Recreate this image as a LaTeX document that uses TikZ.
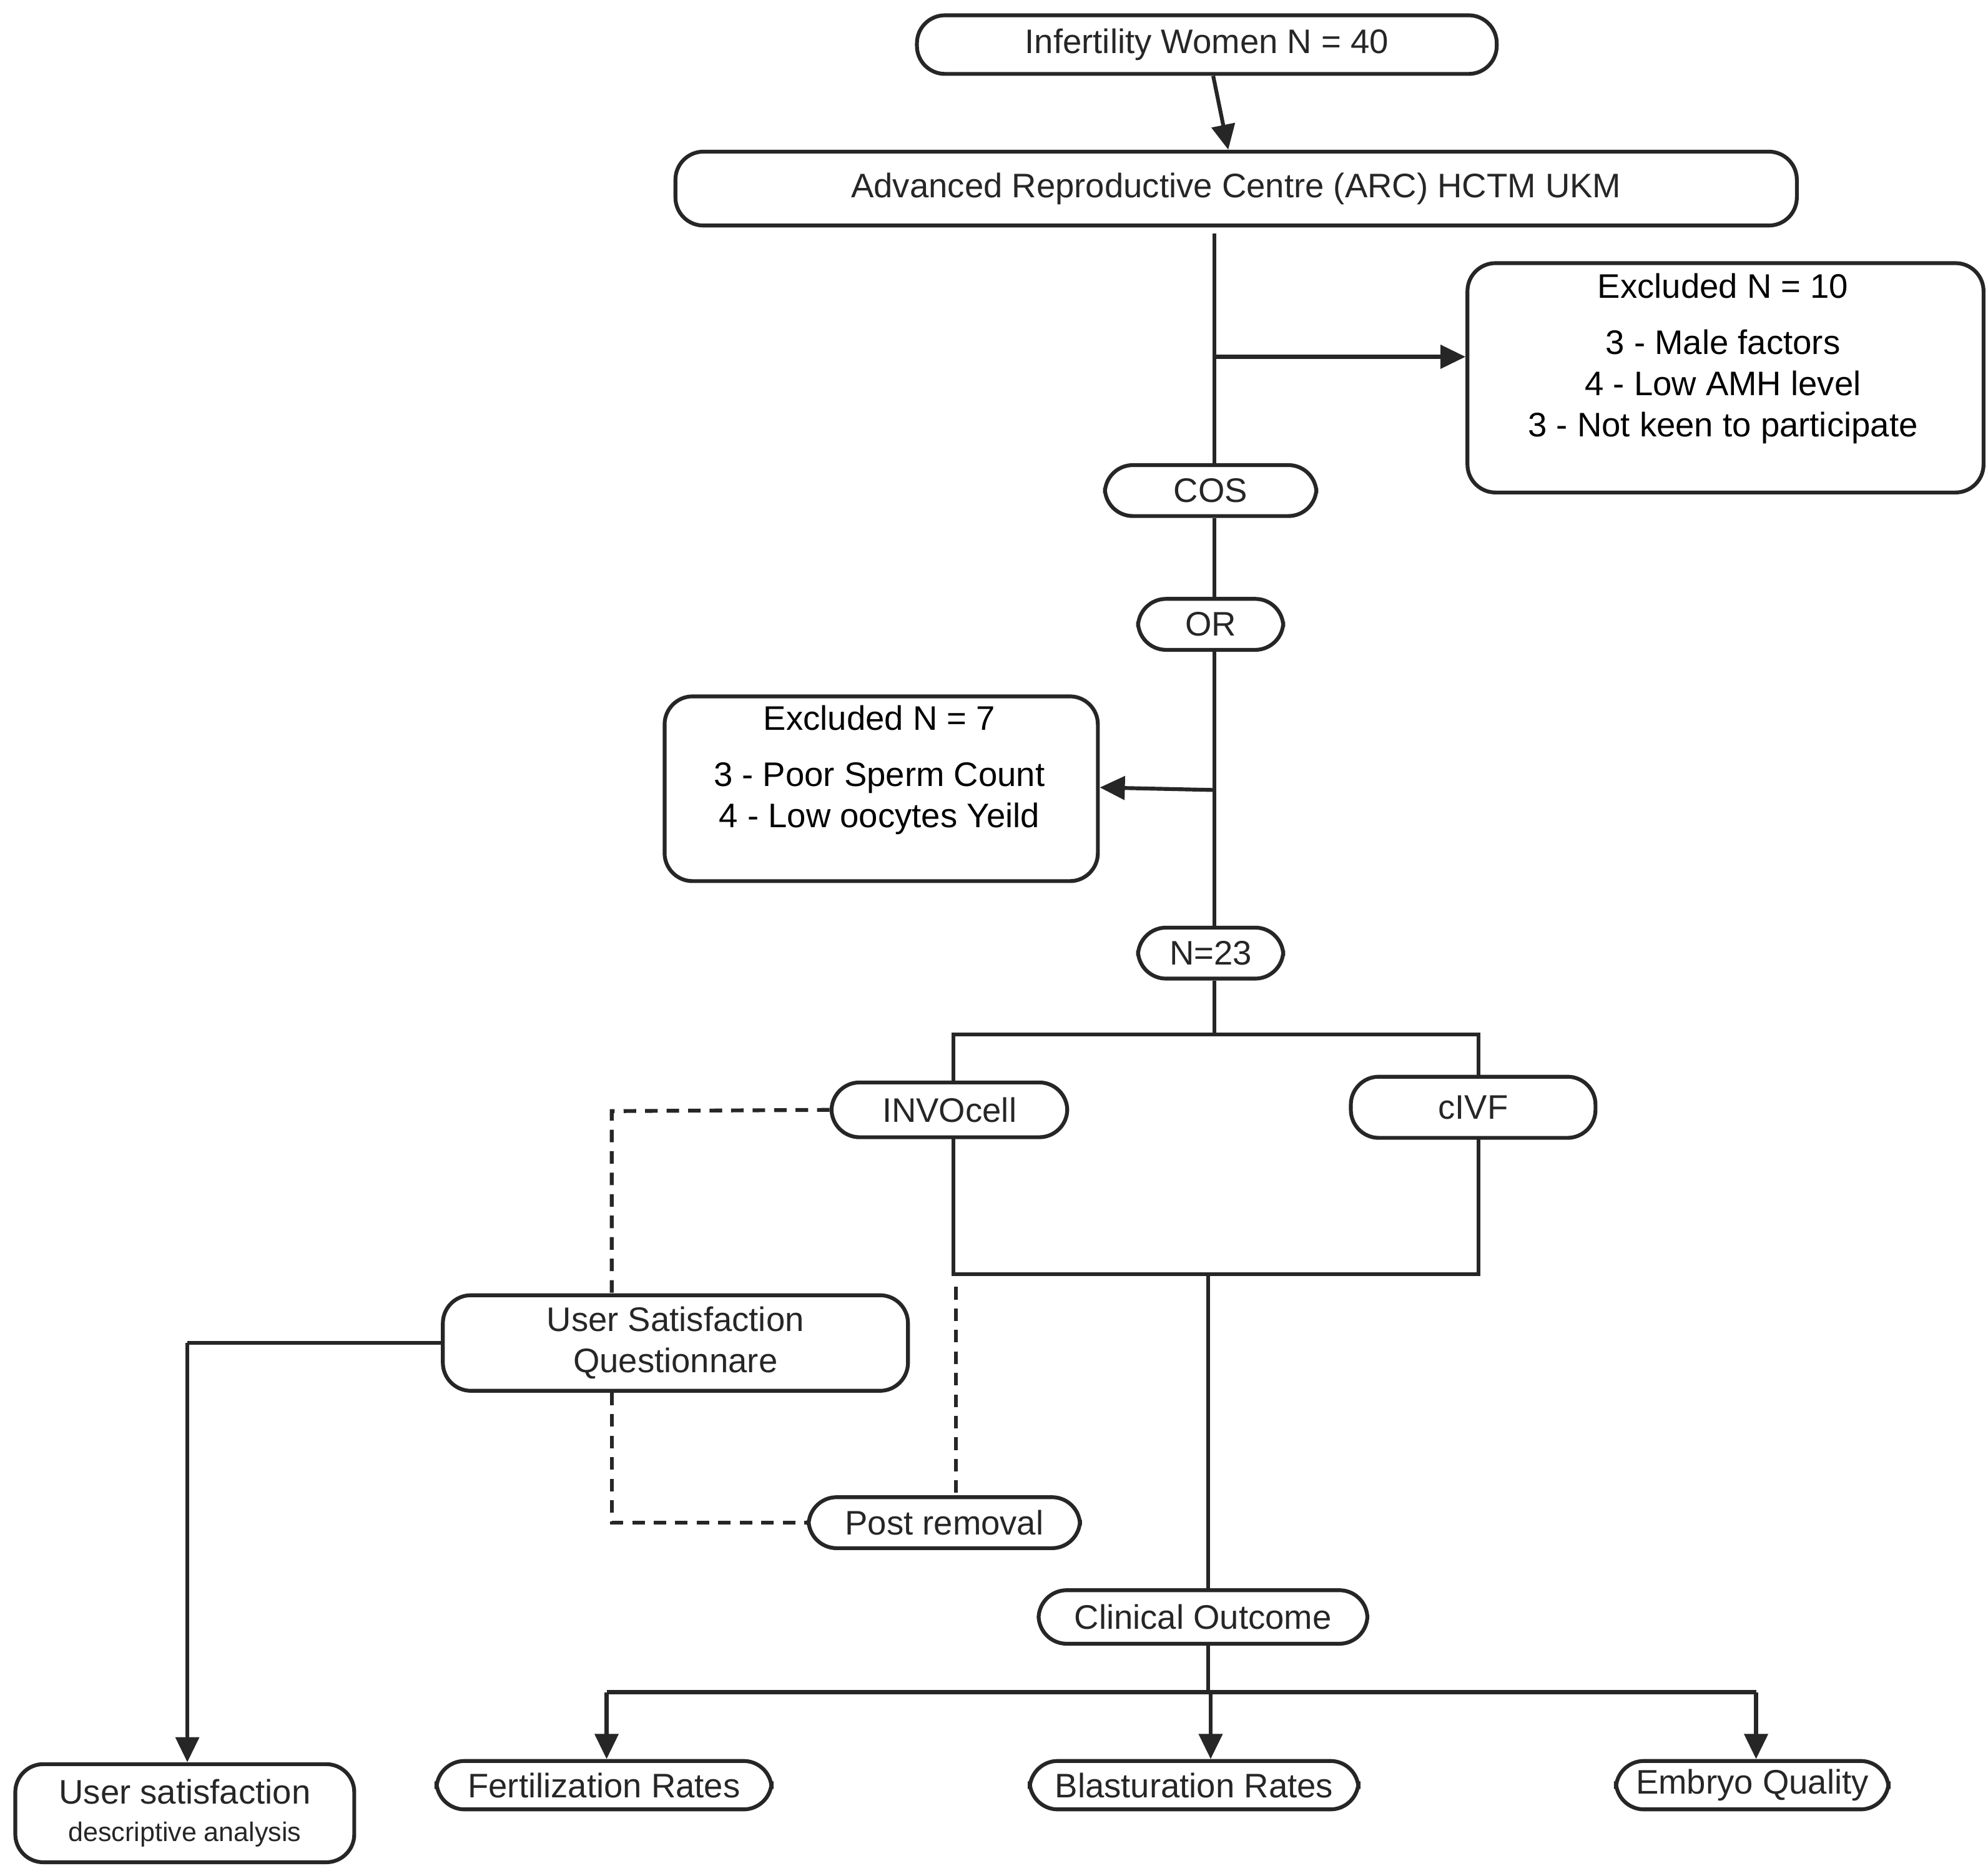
\documentclass[tikz,border=0pt]{standalone}
\usepackage{fontspec}
\setmainfont{Liberation Sans}
\usetikzlibrary{arrows.meta}
\begin{document}
\begin{tikzpicture}[x=0.05cm,y=-0.05cm,
  ln/.style={line width=4.3pt,black!85},
  arr/.style={ln,-{Triangle[length=28pt,width=26pt]}},
  dsh/.style={ln,dash pattern=on 14pt off 10pt},
  bx/.style={draw,line width=4.3pt,black!85,rounded corners=1.1cm,font=\fontsize{38}{46}\selectfont,align=center,inner sep=0pt}]
\useasboundingbox (0,0) rectangle (1560,1472);
\node[bx,minimum width=22.75cm,minimum height=2.3cm] (inf) at (947,35) {Infertility Women N = 40};
\node[bx,minimum width=44cm,minimum height=2.9cm] (arc) at (970,148) {Advanced Reproductive Centre (ARC) HCTM UKM};
\node[bx,minimum width=20.25cm,minimum height=9cm,anchor=north west] (ex1) at (1150,205) {};
\node[font=\fontsize{38}{46}\selectfont,align=center,anchor=north] (ex1t) at (1352,212) {Excluded N = 10\\[0.6cm]3 - Male factors\\4 - Low AMH level\\3 - Not keen to participate};
\node[bx,minimum width=8.3cm,minimum height=2cm] (cos) at (950,385) {COS};
\node[bx,minimum width=5.7cm,minimum height=2cm] (or) at (950,490) {OR};
\node[bx,minimum width=17cm,minimum height=7.25cm,anchor=north west] (ex2) at (520,545) {};
\node[font=\fontsize{38}{46}\selectfont,align=center,anchor=north] (ex2t) at (690,551) {Excluded N = 7\\[0.6cm]3 - Poor Sperm Count\\4 - Low oocytes Yeild};
\node[bx,minimum width=5.7cm,minimum height=2cm] (n23) at (950,748) {N=23};
\node[bx,minimum width=9.25cm,minimum height=2.15cm] (inv) at (745,871) {INVOcell};
\node[bx,minimum width=9.6cm,minimum height=2.4cm] (civf) at (1156,869) {cIVF};
\node[bx,minimum width=18.25cm,minimum height=3.75cm] (usq) at (530,1054) {User Satisfaction\\Questionnare};
\node[bx,minimum width=10.65cm,minimum height=2cm] (post) at (741,1195) {Post removal};
\node[bx,minimum width=12.9cm,minimum height=2.1cm] (clin) at (944,1269) {Clinical Outcome};
\node[bx,minimum width=13.15cm,minimum height=1.9cm] (fert) at (474,1401) {Fertilization Rates};
\node[bx,minimum width=12.9cm,minimum height=1.9cm] (blas) at (937,1401) {Blasturation Rates};
\node[bx,minimum width=10.7cm,minimum height=1.9cm] (emb) at (1375,1401) {Embryo Quality};
\node[bx,minimum width=13.3cm,minimum height=3.85cm] (us) at (145,1423) {User satisfaction\\[-4pt]{\fontsize{30}{36}\selectfont descriptive analysis}};
% connectors
\draw[arr] (inf) -- (arc);
\draw[ln] (953,183) -- (cos.north -| 953,0);
\draw[arr] (953,280) -- (ex1.west |- 953,280);
\draw[ln] (cos.south -| 953,0) -- (or.north -| 953,0);
\draw[ln] (or.south -| 953,0) -- (n23.north -| 953,0);
\draw[arr] (953,620) -- (ex2.east |- 953,618);
\draw[ln] (n23.south -| 953,0) -- (953,812);
\draw[ln] (748,851) -- (748,812) -- (1160,812) -- (1160,845);
\draw[ln] (748,893) -- (748,1000) -- (1160,1000) -- (1160,893);
\draw[ln] (948,1000) -- (clin.north -| 948,0);
\draw[dsh] (inv.west) -- (480,872) -- (usq.north -| 480,0);
\draw[dsh] (usq.south -| 480,0) -- (480,1195) -- (post.west);
\draw[dsh] (750,1010) -- (post.north -| 750,0);
\draw[ln] (usq.west) -- (147,1054);
\draw[arr] (147,1054) -- (us.north -| 147,0);
\draw[ln] (948,1290) -- (948,1328);
\draw[ln] (476,1328) -- (1378,1328);
\draw[arr] (476,1328) -- (fert.north -| 476,0);
\draw[arr] (950,1328) -- (blas.north -| 950,0);
\draw[arr] (1378,1328) -- (emb.north -| 1378,0);
\end{tikzpicture}
\end{document}
